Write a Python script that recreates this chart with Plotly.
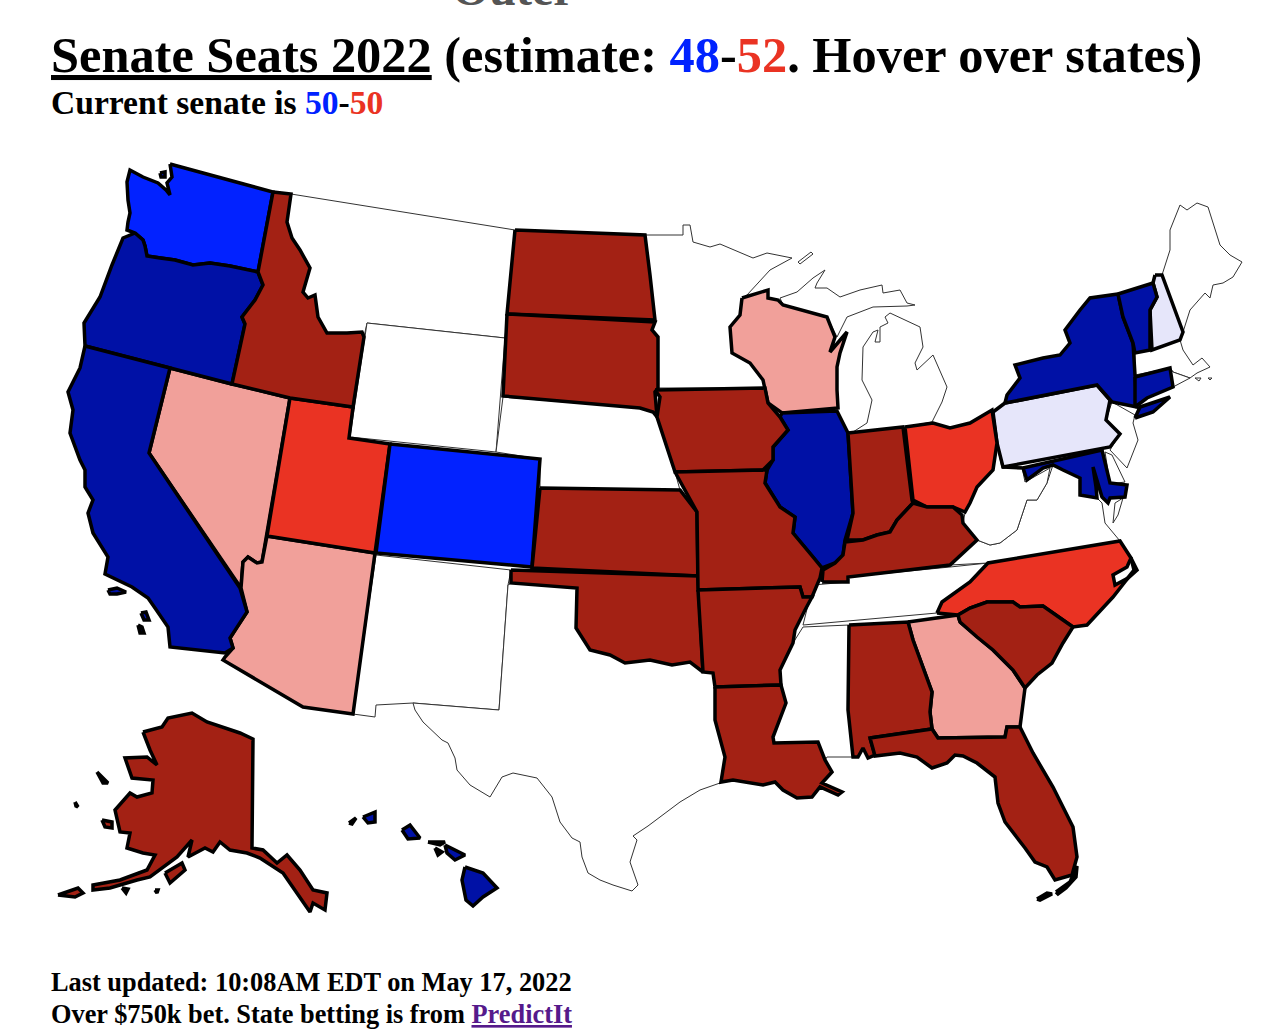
import plotly.graph_objects as go

# State outlines (picture pixels, y downward)
WA = [[(170,164),(273,192),(258,272),(230,266),(210,263),(193,265),(175,260),(160,258),(147,256),(145,246),(143,240),(135,233),(127,230),(128,222),(130,213),(128,200),(127,182),(130,170),(143,177),(158,183),(166,190),(170,195),(167,183),(172,177)],
      [(160,173),(165,172),(165,177),(161,177)]]
OR = [[(135,233),(143,240),(145,246),(147,256),(160,258),(175,260),(193,265),(210,263),(230,266),(258,272),(263,285),(255,300),(242,317),(245,324),(232,384),(170,368),(85,346),(84,323),(100,297),(112,265),(123,238)]]
CA = [[(85,346),(170,368),(149,453),(240,588),(247,612),(237,627),(230,638),(233,648),(225,653),(170,647),(168,627),(155,608),(148,598),(132,587),(105,574),(108,557),(93,533),(88,513),(93,500),(85,487),(85,470),(80,460),(70,433),(73,410),(68,392),(80,368)],
      [(108,590),(117,588),(126,592),(117,594),(110,594)],
      [(141,613),(146,612),(149,620),(144,620)],
      [(138,625),(142,627),(144,633),(140,633)]]
ID = [[(273,192),(291,194),(287,222),(292,238),(300,250),(310,268),(303,292),(308,298),(315,295),(318,317),(327,333),(347,333),(362,332),(364,337),(353,407),(290,398),(232,384),(245,324),(242,317),(255,300),(263,285),(258,272)]]
NV = [[(170,368),(232,384),(290,398),(267,535),(262,562),(257,563),(248,557),(243,562),(241,588),(149,453)]]
MT = [[(291,194),(515,230),(505,338),(367,323),(364,337),(362,332),(347,333),(327,333),(318,317),(315,295),(308,298),(303,292),(310,268),(300,250),(292,238),(287,222)]]
WY = [[(367,323),(505,338),(496,452),(350,437)]]
UT = [[(290,398),(353,407),(349,438),(390,444),(375,553),(267,536)]]
CO = [[(390,444),(540,459),(532,567),(376,553)]]
AZ = [[(267,536),(375,553),(353,714),(303,707),(223,660),(225,657),(233,648),(230,638),(237,627),(247,612),(241,588),(243,562),(248,557),(257,563),(262,562)]]
NM = [[(376,555),(511,570),(508,585),(499,710),(413,703),(376,705),(375,717),(353,714)]]
ND = [[(515,230),(645,235),(650,275),(655,320),(507,314)]]
SD = [[(507,314),(655,322),(652,330),(658,337),(658,388),(655,392),(657,417),(653,412),(640,408),(503,396)]]
NE = [[(503,397),(640,408),(653,412),(657,417),(675,472),(680,490),(540,488),(540,459),(496,452)]]
KS = [[(540,488),(680,490),(697,512),(698,576),(532,568)]]
OK = [[(511,570),(698,576),(703,672),(690,662),(672,665),(650,660),(625,663),(610,655),(590,650),(576,628),(577,588),(511,583)]]
TX = [[(511,583),(577,588),(576,628),(590,650),(610,655),(625,663),(650,660),(672,665),(690,662),(703,672),(713,673),(715,687),(715,720),(725,757),(720,783),(700,790),(680,802),(648,826),(633,836),(637,840),(630,862),(638,885),(632,891),(613,885),(600,880),(588,873),(582,857),(580,842),(572,838),(560,822),(552,797),(537,778),(513,773),(502,777),(490,797),(470,785),(457,770),(455,758),(448,743),(442,740),(423,722),(415,710),(413,703),(499,710),(508,585)]]
MN = [[(645,235),(683,235),(683,225),(690,225),(693,242),(710,247),(720,244),(740,252),(753,258),(767,253),(792,258),(770,270),(747,295),(742,298),(740,315),(730,327),(732,353),(750,363),(763,380),(765,388),(658,388),(658,337),(652,330),(655,320)],
      [(798,262),(811,252),(813,254),(800,264)]]
IA = [[(655,390),(765,388),(768,403),(780,417),(788,430),(773,447),(773,460),(763,470),(675,472),(657,417),(660,397)]]
MO = [[(675,472),(763,470),(767,470),(765,483),(780,507),(795,517),(793,533),(813,557),(822,568),(820,578),(812,597),(803,597),(800,587),(698,590),(697,512)]]
AR = [[(698,590),(800,587),(803,597),(812,597),(805,610),(795,630),(793,643),(780,670),(781,685),(715,687),(713,673),(703,672)]]
LA = [[(715,687),(781,685),(786,703),(773,737),(774,743),(818,742),(825,760),(832,772),(822,783),(842,792),(838,795),(820,787),(812,797),(797,798),(783,790),(775,782),(763,785),(733,780),(721,782),(725,757),(715,720)]]
WI = [[(742,298),(768,290),(768,298),(778,300),(783,305),(827,317),(835,337),(830,352),(847,332),(840,353),(837,367),(837,390),(838,408),(782,413),(768,403),(765,388),(763,380),(750,363),(732,353),(730,327),(740,315)]]
IL = [[(782,413),(837,411),(848,433),(853,513),(845,540),(843,555),(835,563),(822,568),(813,557),(793,533),(795,517),(780,507),(765,483),(767,470),(773,460),(773,447),(788,430),(780,417)]]
MI = [[(780,298),(797,292),(813,278),(825,270),(817,283),(815,288),(827,288),(840,297),(860,290),(882,285),(883,293),(900,290),(907,303),(915,305),(907,306),(873,307),(847,317),(837,337),(827,317),(783,305)],
      [(885,317),(890,313),(920,327),(923,347),(915,363),(917,370),(933,355),(947,387),(942,402),(932,422),(905,427),(853,432),(867,423),(872,400),(862,380),(863,347),(873,332),(878,330),(875,342),(880,342),(880,327),(888,323)]]
IN = [[(848,433),(903,427),(912,500),(913,503),(897,520),(890,532),(877,535),(863,540),(847,540),(853,513)]]
OH = [[(905,427),(933,423),(950,428),(970,423),(992,410),(997,443),(993,470),(977,487),(970,503),(965,512),(953,507),(927,507),(913,500)]]
KY = [[(822,582),(823,570),(835,563),(843,555),(845,542),(863,540),(877,535),(890,532),(897,520),(913,503),(927,507),(953,507),(962,515),(963,523),(977,540),(950,565),(848,577),(848,582)]]
TN = [[(803,625),(813,585),(848,582),(848,577),(950,567),(988,563),(970,582),(942,602),(937,613)]]
MS = [[(803,627),(849,625),(848,710),(853,757),(827,757),(825,760),(818,742),(774,743),(773,737),(786,703),(781,685),(780,670),(793,643)]]
AL = [[(849,625),(908,622),(913,640),(932,692),(930,712),(932,729),(870,738),(875,755),(868,758),(863,748),(858,757),(853,757),(848,710)]]
GA = [[(908,622),(958,615),(960,622),(977,637),(993,650),(1013,670),(1025,688),(1020,727),(1007,727),(1005,737),(938,738),(932,729),(930,712),(932,692),(913,640)]]
FL = [[(870,738),(932,729),(938,738),(1005,737),(1007,727),(1020,727),(1033,753),(1053,787),(1073,827),(1077,857),(1072,875),(1055,880),(1047,867),(1035,862),(1025,848),(1005,822),(998,803),(995,777),(977,763),(963,756),(955,755),(947,763),(932,768),(917,757),(900,753),(875,756)],
      [(1037,899),(1047,893),(1052,894),(1040,900)],
      [(1056,892),(1070,882),(1077,866),(1076,877),(1066,888),(1058,894)]]
SC = [[(960,622),(958,615),(970,608),(987,602),(1013,602),(1020,607),(1043,606),(1073,627),(1063,643),(1052,663),(1037,675),(1025,688),(1013,670),(993,650),(977,637)]]
NC = [[(937,613),(942,602),(970,582),(988,563),(1120,541),(1131,558),(1127,567),(1113,575),(1115,585),(1128,578),(1113,597),(1087,625),(1073,627),(1043,606),(1020,607),(1013,602),(987,602),(970,608),(958,615)],
      [(1131,558),(1137,570),(1126,580),(1134,570)]]
VA = [[(977,540),(990,545),(1000,543),(1017,530),(1027,500),(1037,500),(1047,483),(1053,465),(1063,470),(1080,478),(1080,495),(1097,498),(1102,503),(1105,523),(1120,541),(988,563),(950,565)],
      [(1113,523),(1115,503),(1123,498),(1118,515)]]
WV = [[(997,445),(1002,468),(1022,467),(1025,482),(1050,468),(1047,483),(1037,500),(1027,500),(1017,530),(1000,543),(990,545),(977,540),(963,523),(965,513),(970,503),(977,487),(993,470)]]
PA = [[(993,412),(1005,403),(1097,385),(1110,400),(1106,420),(1120,434),(1110,447),(1003,467),(997,443)]]
MD = [[(1003,467),(1023,468),(1102,450),(1110,483),(1127,485),(1125,497),(1110,498),(1108,503),(1102,497),(1097,480),(1093,467),(1096,487),(1097,498),(1080,495),(1080,478),(1063,470),(1053,465),(1043,468),(1027,480),(1023,468)]]
DE = [[(1105,452),(1112,455),(1125,482),(1110,484)]]
NJ = [[(1112,402),(1135,415),(1133,423),(1138,440),(1127,468),(1110,450),(1120,434),(1106,420)]]
NY = [[(1005,403),(1007,395),(1020,378),(1015,365),(1043,358),(1060,355),(1070,343),(1065,330),(1080,310),(1090,298),(1118,294),(1123,317),(1133,343),(1135,377),(1137,407),(1112,402),(1097,385)],
      [(1135,418),(1140,407),(1170,397),(1153,412)]]
VT = [[(1118,294),(1153,283),(1157,297),(1150,310),(1150,350),(1135,353),(1133,343),(1123,317)]]
NH = [[(1155,275),(1162,275),(1183,332),(1180,340),(1152,350),(1150,310),(1157,297),(1153,283)]]
ME = [[(1162,275),(1170,250),(1170,230),(1180,205),(1187,210),(1197,203),(1208,207),(1220,245),(1230,255),(1242,262),(1233,277),(1223,283),(1213,285),(1210,298),(1205,293),(1190,310),(1183,332)]]
MA = [[(1135,353),(1152,350),(1180,340),(1183,350),(1193,365),(1202,358),(1210,367),(1197,373),(1190,378),(1173,372),(1170,368),(1135,375)],
      [(1195,378),(1201,378),(1199,381)],
      [(1208,378),(1212,378),(1210,380)]]
CT = [[(1135,377),(1170,368),(1173,387),(1147,398),(1135,407)]]
RI = [[(1170,368),(1173,372),(1190,378),(1173,387)]]
AK = [[(143,732),(162,727),(168,718),(192,713),(207,722),(240,733),(253,739),(252,848),(263,850),(277,863),(287,855),(300,870),(313,890),(327,893),(325,910),(313,903),(310,912),(300,897),(283,873),(260,858),(247,853),(230,850),(220,842),(213,852),(205,848),(188,857),(192,840),(177,857),(150,877),(137,880),(110,888),(93,890),(93,885),(120,880),(147,870),(155,855),(143,853),(127,848),(130,833),(120,832),(115,810),(130,793),(137,797),(152,793),(153,780),(132,778),(125,758),(147,757),(157,765),(150,750)],
      [(165,873),(182,863),(185,870),(170,883)],
      [(97,772),(108,783),(103,783)],
      [(102,820),(112,822),(112,828),(105,827)],
      [(75,802),(78,807),(76,806)],
      [(58,895),(70,891),(78,888),(83,893),(75,897)],
      [(155,890),(158,890),(157,893)],
      [(122,888),(128,889),(126,893)]]
HI = [[(465,867),(483,873),(497,888),(483,897),(473,906),(466,900),(462,880)],
      [(445,845),(465,855),(455,860),(447,853)],
      [(428,842),(445,842),(440,845)],
      [(435,848),(442,852),(438,855)],
      [(402,830),(410,825),(420,838),(408,839)],
      [(363,817),(375,812),(375,822),(368,823)],
      [(349,823),(356,818),(352,824)]]

# Categories read from the fills
NO_RACE = {"Montana":MT,"Wyoming":WY,"New Mexico":NM,"Texas":TX,"Nebraska":NE,"Minnesota":MN,"Michigan":MI,
           "Mississippi":MS,"Tennessee":TN,"Virginia":VA,"West Virginia":WV,"New Jersey":NJ,"Delaware":DE,
           "Maine":ME,"Massachusetts":MA,"Rhode Island":RI}
SAFE_DEM = {"Oregon":OR,"California":CA,"Illinois":IL,"New York":NY,"Vermont":VT,"Connecticut":CT,"Maryland":MD,"Hawaii":HI}
LIKELY_DEM = {"Washington":WA,"Colorado":CO}
LEAN_DEM = {"Pennsylvania":PA,"New Hampshire":NH}
LEAN_REP = {"Nevada":NV,"Arizona":AZ,"Wisconsin":WI,"Georgia":GA}
LIKELY_REP = {"Utah":UT,"Ohio":OH,"North Carolina":NC}
SAFE_REP = {"Idaho":ID,"North Dakota":ND,"South Dakota":SD,"Kansas":KS,"Oklahoma":OK,"Iowa":IA,"Missouri":MO,
            "Arkansas":AR,"Louisiana":LA,"Indiana":IN,"Kentucky":KY,"Alabama":AL,"Florida":FL,"South Carolina":SC,"Alaska":AK}

GROUPS = [(NO_RACE,"#FFFFFF",1.0,"#333333"),(LEAN_DEM,"#E6E6FA",3.5,"#000000"),(LEAN_REP,"#F1A09A",3.5,"#000000"),
          (LIKELY_REP,"#EA3323",3.5,"#000000"),(LIKELY_DEM,"#0222FF",3.5,"#000000"),(SAFE_DEM,"#0011A6",3.5,"#000000"),
          (SAFE_REP,"#A32114",3.5,"#000000")]

fig = go.Figure()
for states, fill, width, edge in GROUPS:
    for name, parts in states.items():
        xs, ys = [], []
        for part in parts:
            closed = part + part[:1]
            xs += [p[0] for p in closed] + [None]
            ys += [p[1] for p in closed] + [None]
        fig.add_trace(go.Scatter(x=xs, y=ys, mode="lines", fill="toself", fillcolor=fill,
                                 line=dict(color=edge, width=width, shape="linear"), name=name, text=name,
                                 hoverinfo="text", hoveron="fills", showlegend=False))

BLUE, RED = "#0022FF", "#EA3323"
SERIF = "Liberation Serif"
TEXTS = [
    (452, 15, "<b>Outer</b>", 48, "#555555"),
    (51, 83, f'<b><u>Senate Seats 2022</u> (estimate: <span style="color:{BLUE}">48</span>-<span style="color:{RED}">52</span>. Hover over states)</b>', 50.4, "#000000"),
    (51, 121, f'<b>Current senate is <span style="color:{BLUE}">50</span>-<span style="color:{RED}">50</span></b>', 33.6, "#000000"),
    (51, 997, "<b>Last updated: 10:08AM EDT on May 17, 2022</b>", 26.35, "#000000"),
    (51, 1029, '<b>Over $750k bet. State betting is from <a href="https://www.predictit.org" style="color:#551A8B"><u>PredictIt</u></a></b>', 26.35, "#000000"),
]
for x, y, t, size, col in TEXTS:
    fig.add_annotation(x=x, y=y, xref="x", yref="y", text=t, showarrow=False, xanchor="left", yanchor="bottom",
                       font=dict(family=SERIF, size=size, color=col), borderpad=0, borderwidth=0)

fig.update_layout(width=1284, height=1032, margin=dict(l=0, r=0, t=0, b=0), paper_bgcolor="white", plot_bgcolor="white",
                  xaxis=dict(range=[0, 1284], visible=False, fixedrange=True),
                  yaxis=dict(range=[1032, 0], visible=False, fixedrange=True), hovermode="closest")
fig.write_html("out.html", post_script="document.body.style.margin='0';", config={"displayModeBar": False})
